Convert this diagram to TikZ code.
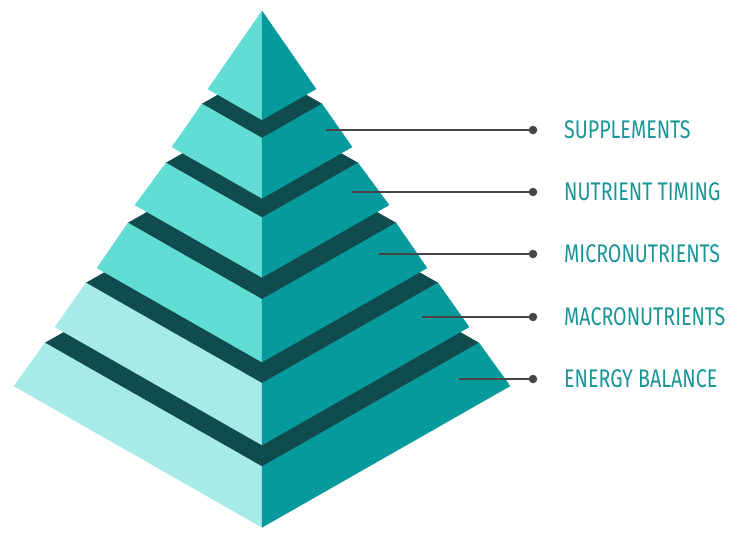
\documentclass[tikz,border=0pt]{standalone}
\usepackage{fontspec}
\newfontfamily\labelfont[FakeStretch=0.77]{Fira Sans}
\definecolor{lightface}{HTML}{62DDD4}
\definecolor{paleface}{HTML}{A7EBE8}
\definecolor{rightface}{HTML}{079A9C}
\definecolor{topface}{HTML}{104B4D}
\definecolor{labeltext}{HTML}{1A9597}
\definecolor{leader}{HTML}{454545}
\tikzset{
  face/.style={line width=0.4pt, line join=round},
  leaderline/.style={draw=leader, line width=1.6pt},
  leaderdot/.style={circle, fill=leader, inner sep=0pt, minimum size=8.5pt},
  tierlabel/.style={anchor=base west, inner sep=0pt, text=labeltext, font=\labelfont\fontsize{25.5}{28}\selectfont},
}
\begin{document}
\begin{tikzpicture}[x=1pt,y=-1pt]
\useasboundingbox (0,0) rectangle (750,535);
\def\kk{0.57}
\foreach \yt/\wt/\yb/\wb/\lc in {343/217/386/248/paleface, 283/176/327/207/paleface, 223/134/268/165/lightface, 163/96/205/127/lightface, 104/60/147/90/lightface, 11/0/89/54/lightface}{
  \filldraw[face, fill=topface, draw=topface] ({262-\wt},\yt) -- (262,{\yt+\kk*\wt}) -- ({262+\wt},\yt) -- (262,{\yt-\kk*\wt}) -- cycle;
  \filldraw[face, fill=\lc, draw=\lc] ({262-\wt},\yt) -- (262,{\yt+\kk*\wt}) -- (262,{\yb+\kk*\wb}) -- ({262-\wb},\yb) -- cycle;
  \filldraw[face, fill=rightface, draw=rightface] (262,{\yt+\kk*\wt}) -- ({262+\wt},\yt) -- ({262+\wb},\yb) -- (262,{\yb+\kk*\wb}) -- cycle;
}
% leader start points on the tiers
\coordinate (s1) at (326,130);
\coordinate (s2) at (352,192);
\coordinate (s3) at (379,254);
\coordinate (s4) at (422,317);
\coordinate (s5) at (459,379);
% dots
\node[leaderdot] (d1) at (533,130) {};
\node[leaderdot] (d2) at (533,192) {};
\node[leaderdot] (d3) at (533,254) {};
\node[leaderdot] (d4) at (533,317) {};
\node[leaderdot] (d5) at (533,379) {};
\draw[leaderline] (s1) -- (d1.center);
\draw[leaderline] (s2) -- (d2.center);
\draw[leaderline] (s3) -- (d3.center);
\draw[leaderline] (s4) -- (d4.center);
\draw[leaderline] (s5) -- (d5.center);
% labels
\node[tierlabel] (t1) at (564,138.5) {SUPPLEMENTS};
\node[tierlabel] (t2) at (564,200.5) {NUTRIENT TIMING};
\node[tierlabel] (t3) at (564,262.5) {MICRONUTRIENTS};
\node[tierlabel] (t4) at (564,325.5) {MACRONUTRIENTS};
\node[tierlabel] (t5) at (564,387.5) {ENERGY BALANCE};
\end{tikzpicture}
\end{document}
